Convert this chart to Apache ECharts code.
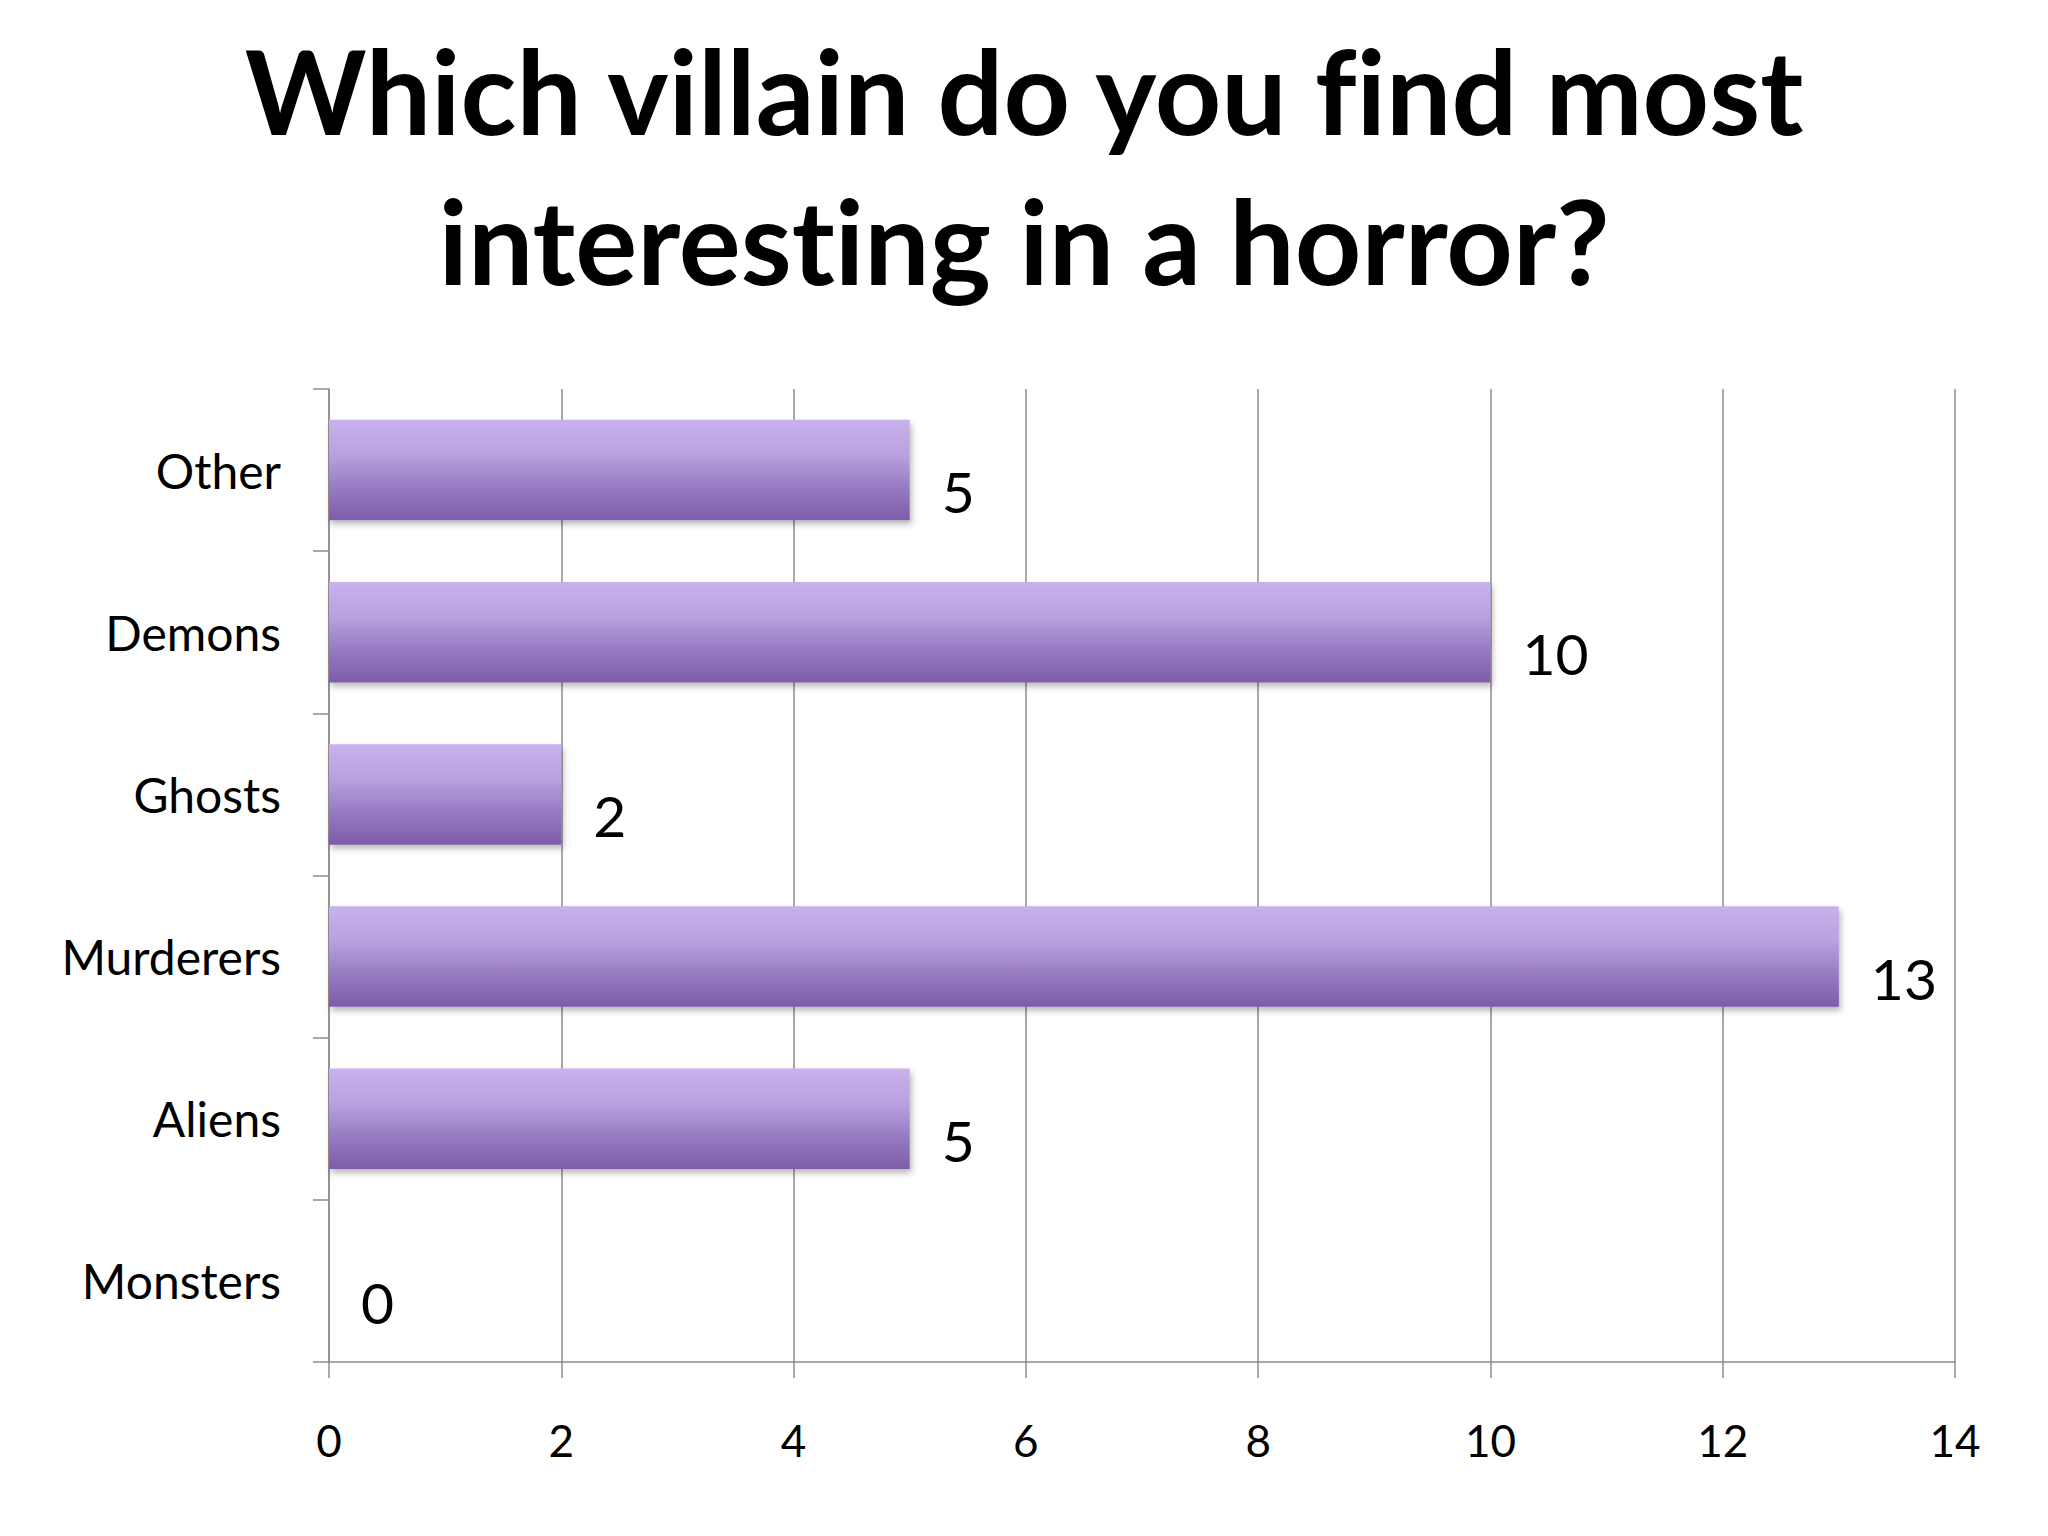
<!DOCTYPE html>
<html>
<head>
<meta charset="utf-8">
<script src="https://cdn.jsdelivr.net/npm/echarts@6/dist/echarts.min.js"></script>
<style>
html,body{margin:0;padding:0;background:#ffffff;}
#chart{width:2048px;height:1536px;}
#chart text{font-variant-ligatures:none;font-feature-settings:"liga" 0,"clig" 0;}
</style>
</head>
<body>
<div id="chart"></div>
<script>
// Data (bottom to top on the chart)
const titleText = "Which villain do you find most\ninteresting in a horror?";
const categories = ["Monsters", "Aliens", "Murderers", "Ghosts", "Demons", "Other"];
const votes = [0, 5, 13, 2, 10, 5];
const xTicks = { min: 0, max: 14, interval: 2 };

const axisGray = "#8c8c8c";
const chart = echarts.init(document.getElementById("chart"), null, { renderer: "svg" });

chart.setOption({
  backgroundColor: "#ffffff",
  animation: false,
  title: {
    text: titleText,
    left: "center",
    top: 10,
    textStyle: {
      fontFamily: "Lato",
      fontWeight: "bold",
      fontSize: 116,
      lineHeight: 150,
      color: "#000000"
    }
  },
  grid: { left: 329, right: 93, top: 389, bottom: 174, containLabel: false },
  xAxis: {
    type: "value",
    min: xTicks.min,
    max: xTicks.max,
    interval: xTicks.interval,
    axisLine: { show: true, lineStyle: { color: axisGray, width: 1.5 } },
    axisTick: { show: true, length: 16, lineStyle: { color: axisGray, width: 1.5 } },
    axisLabel: { fontFamily: "Lato", fontSize: 44, color: "#000000", margin: 56 },
    splitLine: { show: true, lineStyle: { color: axisGray, width: 1.5 } }
  },
  yAxis: {
    type: "category",
    data: categories,
    axisLine: { show: true, lineStyle: { color: axisGray, width: 1.5 } },
    axisTick: { show: true, length: 16, lineStyle: { color: axisGray, width: 1.5 } },
    axisLabel: { fontFamily: "Lato", fontSize: 48, color: "#000000", margin: 48 },
    splitLine: { show: false }
  },
  series: [{
    type: "bar",
    data: votes,
    barCategoryGap: "38%",
    itemStyle: {
      color: new echarts.graphic.LinearGradient(0, 0, 0, 1, [
        { offset: 0, color: "#c9b1ec" },
        { offset: 0.35, color: "#b9a0e0" },
        { offset: 0.7, color: "#9478c0" },
        { offset: 1, color: "#7d5ca8" }
      ]),
      shadowColor: "rgba(0,0,0,0.28)",
      shadowBlur: 6,
      shadowOffsetX: 2,
      shadowOffsetY: 4
    },
    label: {
      show: true,
      position: "right",
      distance: 32,
      offset: [0, 21],
      fontFamily: "Lato",
      fontSize: 57,
      color: "#000000"
    }
  }]
});
</script>
</body>
</html>
